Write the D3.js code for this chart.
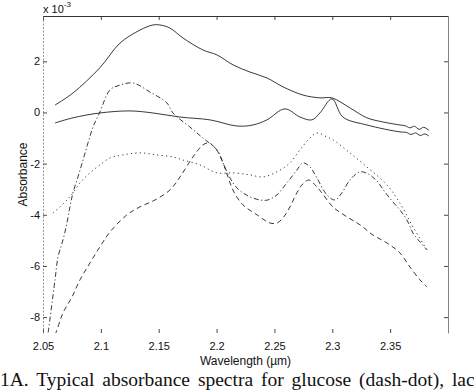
<!DOCTYPE html>
<html>
<head>
<meta charset="utf-8">
<script src="https://cdn.jsdelivr.net/npm/d3@7"></script>
<style>
  body { margin: 0; background: #fff; }
  svg { display: block; font-family: "Liberation Sans", Arial, Helvetica, sans-serif; }
</style>
</head>
<body>
<div id="chart"></div>
<script>
// wavelength (um) and absorbance (x 1e-3)
const upperSolidWl = [2.0604, 2.0759, 2.0992, 2.1165, 2.1338, 2.145, 2.151, 2.1597, 2.171, 2.1883, 2.2003, 2.2142, 2.2288, 2.2435, 2.2574, 2.2747, 2.2893, 2.2997, 2.3152, 2.3299, 2.3437, 2.3584, 2.363, 2.367, 2.371, 2.375, 2.379, 2.3835];
const upperSolidAbs = [0.29, 0.76, 1.75, 2.71, 3.22, 3.42, 3.42, 3.30, 2.91, 2.44, 2.25, 1.86, 1.58, 1.35, 1.00, 0.68, 0.57, 0.57, 0.18, -0.21, -0.37, -0.49, -0.52, -0.60, -0.54, -0.66, -0.58, -0.70];

const lowerSolidWl = [2.0604, 2.0759, 2.0992, 2.1252, 2.145, 2.1684, 2.1943, 2.2176, 2.2314, 2.2435, 2.2591, 2.2721, 2.2824, 2.2893, 2.2997, 2.3092, 2.3299, 2.3584, 2.364, 2.368, 2.372, 2.376, 2.380, 2.3835];
const lowerSolidAbs = [-0.41, -0.21, -0.02, 0.06, -0.02, -0.18, -0.29, -0.53, -0.49, -0.29, 0.14, -0.18, -0.29, -0.02, 0.53, -0.18, -0.49, -0.76, -0.78, -0.86, -0.80, -0.90, -0.84, -0.92];

const glucoseWl = [2.0545, 2.0604, 2.063, 2.0673, 2.0707, 2.0733, 2.0759, 2.0802, 2.0846, 2.0889, 2.0932, 2.0992, 2.1079, 2.1165, 2.1278, 2.1424, 2.1571, 2.1623, 2.177, 2.1882, 2.2003, 2.2055, 2.2116, 2.2176, 2.2271, 2.2375, 2.2444, 2.2522, 2.2608, 2.2695, 2.2746, 2.2807, 2.2867, 2.2954, 2.3023, 2.3083, 2.3152, 2.3239, 2.3308, 2.3386, 2.3455, 2.3524, 2.3584, 2.3645, 2.3697, 2.3757, 2.3818];
const glucoseAbs = [-8.6, -6.54, -5.64, -4.98, -4.32, -3.69, -3.14, -2.52, -1.86, -1.19, -0.57, 0.02, 0.88, 1.07, 1.15, 0.80, 0.37, -0.02, -0.57, -1.0, -1.46, -1.97, -2.56, -2.95, -3.26, -3.42, -3.42, -3.22, -2.75, -2.25, -1.97, -2.13, -2.56, -3.22, -3.42, -3.14, -2.64, -2.32, -2.40, -2.68, -3.11, -3.50, -3.81, -4.20, -4.71, -5.06, -5.37];

const dottedWl = [2.0586, 2.0647, 2.0707, 2.0759, 2.082, 2.0906, 2.0992, 2.1079, 2.1191, 2.1338, 2.1485, 2.1623, 2.171, 2.1856, 2.2003, 2.2142, 2.2288, 2.2401, 2.2522, 2.2634, 2.2721, 2.2807, 2.2867, 2.2954, 2.3006, 2.3152, 2.3299, 2.3472, 2.3584, 2.3697, 2.3818];
const dottedAbs = [-3.93, -3.69, -3.42, -3.14, -2.75, -2.36, -2.05, -1.78, -1.66, -1.58, -1.66, -1.74, -1.86, -2.05, -2.36, -2.36, -2.44, -2.52, -2.32, -1.97, -1.46, -1.0, -0.80, -0.96, -1.07, -1.58, -2.13, -2.83, -3.54, -4.47, -5.37];

const dashedWl = [2.0604, 2.0621, 2.0673, 2.0751, 2.082, 2.0906, 2.0992, 2.1079, 2.1226, 2.1338, 2.1468, 2.1597, 2.1684, 2.1796, 2.1882, 2.1934, 2.1995, 2.2047, 2.2098, 2.215, 2.2228, 2.2349, 2.2461, 2.2522, 2.2574, 2.2634, 2.2694, 2.2746, 2.2798, 2.2859, 2.291, 2.3005, 2.3126, 2.3239, 2.3351, 2.3472, 2.3584, 2.3671, 2.3757, 2.3818];
const dashedAbs = [-8.69, -8.50, -7.83, -7.21, -6.54, -5.88, -5.25, -4.67, -4.00, -3.69, -3.42, -3.03, -2.52, -1.74, -1.27, -1.19, -1.43, -1.86, -2.52, -3.11, -3.61, -4.00, -4.32, -4.32, -4.12, -3.69, -3.14, -2.79, -2.64, -2.87, -3.14, -3.69, -4.08, -4.39, -4.79, -5.10, -5.49, -6.04, -6.54, -6.82];

const xTicks = [2.05, 2.1, 2.15, 2.2, 2.25, 2.3, 2.35];
const yTicks = [-8, -6, -4, -2, 0, 2];
const xDomain = [2.05, 2.4];
const yDomain = [-8.62, 3.77];

const width = 474, height = 391;
const m = { left: 43, right: 448, top: 16, bottom: 333 };

const svg = d3.select("#chart").append("svg")
    .attr("width", width)
    .attr("height", height);

svg.append("rect").attr("width", width).attr("height", height).attr("fill", "#fff");

const x = d3.scaleLinear().domain(xDomain).range([m.left, m.right]);
const y = d3.scaleLinear().domain(yDomain).range([m.bottom, m.top]);

svg.append("clipPath").attr("id", "plot")
    .append("rect")
    .attr("x", m.left).attr("y", m.top)
    .attr("width", m.right - m.left).attr("height", m.bottom - m.top);

const fmtX = d => String(+d.toFixed(2));

// bottom axis: the scan lost the baseline, only ticks and labels remain
const gx = svg.append("g")
    .attr("transform", `translate(0,${m.bottom})`)
    .call(d3.axisBottom(x).tickValues(xTicks).tickFormat(fmtX).tickSize(-4).tickSizeOuter(0).tickPadding(9));
gx.select(".domain").remove();

const gxTop = svg.append("g")
    .attr("transform", `translate(0,${m.top})`)
    .call(d3.axisTop(x).tickValues(xTicks).tickFormat("").tickSize(-4).tickSizeOuter(0));

const gy = svg.append("g")
    .attr("transform", `translate(${m.left},0)`)
    .call(d3.axisLeft(y).tickValues(yTicks).tickFormat(d => String(d)).tickSize(-4).tickSizeOuter(0).tickPadding(3));

const gyRight = svg.append("g")
    .attr("transform", `translate(${m.right},0)`)
    .call(d3.axisRight(y).tickValues(yTicks).tickFormat("").tickSize(-4).tickSizeOuter(0));

svg.selectAll(".tick line").attr("stroke", "#333").attr("stroke-width", 0.9);
svg.selectAll(".tick text")
    .attr("fill", "#111")
    .style("font-size", "11px")
    .style("font-family", "'Liberation Sans', Arial, sans-serif");
gxTop.select(".domain").attr("stroke", "#333").attr("stroke-width", 1);
gy.select(".domain").attr("stroke", "#777").attr("stroke-width", 0.8).attr("stroke-dasharray", "2,1.5");
gyRight.select(".domain").attr("stroke", "#666").attr("stroke-width", 0.8);

const line = d3.line()
    .x(d => x(d[0]))
    .y(d => y(d[1]))
    .curve(d3.curveCatmullRom.alpha(0.5));

const series = [
    { wl: upperSolidWl, abs: upperSolidAbs, dash: null },
    { wl: lowerSolidWl, abs: lowerSolidAbs, dash: null },
    { wl: glucoseWl, abs: glucoseAbs, dash: "5,2.5,1.2,2.5" },
    { wl: dottedWl, abs: dottedAbs, dash: "1.2,3.2" },
    { wl: dashedWl, abs: dashedAbs, dash: "5,3.5" }
];

svg.append("g")
    .attr("clip-path", "url(#plot)")
    .selectAll("path")
    .data(series)
    .enter()
    .append("path")
    .attr("d", s => line(d3.zip(s.wl, s.abs)))
    .attr("fill", "none")
    .attr("stroke", "#222")
    .attr("stroke-width", 0.9)
    .attr("stroke-dasharray", s => s.dash);

// exponent label
const expo = svg.append("text")
    .attr("x", m.left)
    .attr("y", 13)
    .attr("font-size", 11)
    .attr("fill", "#111")
    .text("x 10");
expo.append("tspan")
    .attr("dy", -6)
    .attr("font-size", 8)
    .text("-3");

svg.append("text")
    .attr("x", (m.left + m.right) / 2)
    .attr("y", 365)
    .attr("text-anchor", "middle")
    .attr("font-size", 12)
    .attr("fill", "#111")
    .text("Wavelength (µm)");

svg.append("text")
    .attr("transform", `translate(27,${(m.top + m.bottom) / 2}) rotate(-90)`)
    .attr("text-anchor", "middle")
    .attr("font-size", 12)
    .attr("fill", "#111")
    .text("Absorbance");

// figure caption at the bottom edge
svg.append("text")
    .attr("x", 0)
    .attr("y", 386)
    .attr("font-family", "'Liberation Serif', 'Times New Roman', serif")
    .attr("font-size", 19.5)
    .attr("word-spacing", 3)
    .attr("fill", "#111")
    .text("1A.   Typical absorbance spectra for glucose (dash-dot), lac");
</script>
</body>
</html>
